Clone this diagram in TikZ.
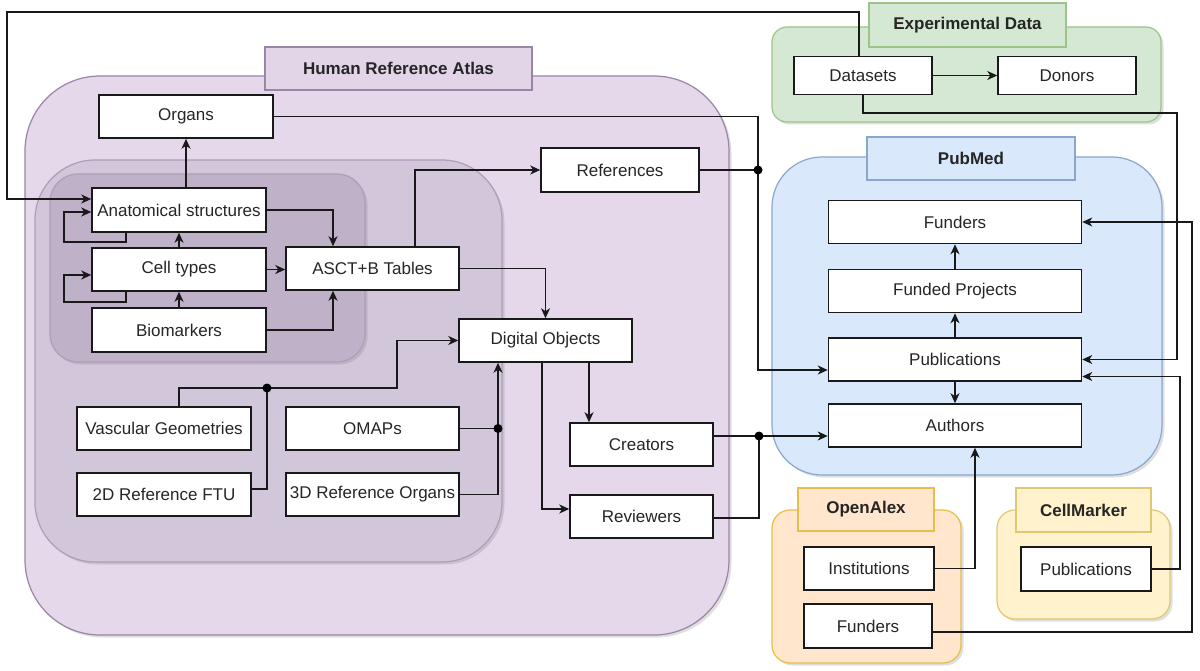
\documentclass[tikz,border=0pt]{standalone}
\usepackage{fontspec}
\setmainfont{Liberation Sans}
\usetikzlibrary{arrows.meta,calc,shadows}
\definecolor{hraFill}{HTML}{E4D8EA}
\definecolor{hraLine}{HTML}{9A85A6}
\definecolor{midFill}{HTML}{D2C6DA}
\definecolor{inFill}{HTML}{BFB1C7}
\definecolor{tabHra}{HTML}{E1D5E7}
\definecolor{gFill}{HTML}{D5E8D4}
\definecolor{gLine}{HTML}{9CC48A}
\definecolor{bFill}{HTML}{DAE8FC}
\definecolor{bLine}{HTML}{8AA6CF}
\definecolor{oFill}{HTML}{FFE6CC}
\definecolor{oLine}{HTML}{E8BE4A}
\definecolor{yFill}{HTML}{FFF2CC}
\definecolor{yLine}{HTML}{E0C870}
\begin{document}
\begin{tikzpicture}[x=1pt,y=-1pt,
  box/.style={draw=black!90, fill=white, line width=1.5pt, inner sep=0pt,
    font=\fontsize{17}{20}\selectfont, text=black!85},
  tab/.style={line width=1.2pt, inner sep=0pt, font=\bfseries\fontsize{17}{20}\selectfont, text=black!85},
  cont/.style={line width=1.2pt, drop shadow={shadow xshift=2.5pt,shadow yshift=-2.5pt,opacity=0.25}},
  conn/.style={line width=1.6pt, draw=black!90},
  arr/.style={conn, -{Stealth[length=10pt,width=9pt,inset=3pt]}},
  dot/.style={circle, fill=black, inner sep=0pt, minimum size=9pt}
]
\useasboundingbox (0,0) rectangle (1200,671);
\fill[white] (0,0) rectangle (1200,671);

% ---------- containers ----------
\draw[cont, fill=hraFill, draw=hraLine, rounded corners=75pt] (25,76) rectangle (729,635);
\node[tab, fill=tabHra, draw=hraLine, minimum width=267pt, minimum height=43pt] (hratab) at (398.5,68.5) {Human Reference Atlas};
\draw[cont, fill=midFill, draw=hraLine!80, rounded corners=60pt] (35,160) rectangle (502,562);
\draw[cont, fill=inFill, draw=hraLine!80, rounded corners=28pt] (50,174) rectangle (365,362);

\draw[cont, fill=gFill, draw=gLine, rounded corners=15pt] (772,27) rectangle (1161,122);
\node[tab, fill=gFill, draw=gLine, minimum width=197pt, minimum height=44pt] (gtab) at (967.5,25) {Experimental Data};

\draw[cont, fill=bFill, draw=bLine, rounded corners=50pt] (772,157) rectangle (1162,475);
\node[tab, fill=bFill, draw=bLine, minimum width=208pt, minimum height=43pt] (btab) at (971,158.5) {PubMed};

\draw[cont, fill=oFill, draw=oLine, rounded corners=18pt] (772,510) rectangle (961,663);
\node[tab, fill=oFill, draw=oLine, minimum width=136pt, minimum height=43pt] (otab) at (866,509.5) {OpenAlex};

\draw[cont, fill=yFill, draw=yLine, rounded corners=18pt] (997,510) rectangle (1170,619);
\node[tab, fill=yFill, draw=yLine, minimum width=135pt, minimum height=44pt] (ytab) at (1083.5,510) {CellMarker};

% ---------- boxes ----------
\node[box, minimum width=174pt, minimum height=43pt] (organs) at (186,116.5) {Organs};
\node[box, minimum width=174pt, minimum height=44pt] (as) at (179,210) {Anatomical structures};
\node[box, minimum width=174pt, minimum height=43pt] (ct) at (179,269.5) {Cell types};
\node[box, minimum width=174pt, minimum height=44pt] (bm) at (179,330) {Biomarkers};
\node[box, minimum width=173pt, minimum height=43pt] (asct) at (372.5,268.5) {ASCT+B Tables};
\node[box, minimum width=158pt, minimum height=44pt] (refs) at (620,170) {References};
\node[box, minimum width=173pt, minimum height=43pt] (dobj) at (545.5,340.5) {Digital Objects};
\node[box, minimum width=174pt, minimum height=43pt] (vg) at (164,428.5) {Vascular Geometries};
\node[box, minimum width=174pt, minimum height=43pt] (ftu) at (164,494.5) {2D Reference FTU};
\node[box, minimum width=173pt, minimum height=43pt] (omaps) at (372.5,428.5) {OMAPs};
\node[box, minimum width=173pt, minimum height=43pt] (org3d) at (372.5,494.5) {3D Reference Organs};
\node[box, minimum width=143pt, minimum height=43pt] (creators) at (641.5,444.5) {Creators};
\node[box, minimum width=143pt, minimum height=43pt] (reviewers) at (641.5,516.5) {Reviewers};

\node[box, minimum width=138pt, minimum height=38pt] (datasets) at (863,75.5) {Datasets};
\node[box, minimum width=138pt, minimum height=38pt] (donors) at (1067,75.5) {Donors};

\node[box, minimum width=253pt, minimum height=43pt] (pfunders) at (955,222) {Funders};
\node[box, minimum width=253pt, minimum height=43pt] (fprojects) at (955,291) {Funded Projects};
\node[box, minimum width=253pt, minimum height=43pt] (pubs) at (955,359.5) {Publications};
\node[box, minimum width=253pt, minimum height=43pt] (authors) at (955,425.5) {Authors};

\node[box, minimum width=130pt, minimum height=43pt] (inst) at (869,568.5) {Institutions};
\node[box, minimum width=128pt, minimum height=44pt] (ofunders) at (868,626) {Funders};
\node[box, minimum width=130pt, minimum height=44pt] (cmpubs) at (1086,569) {Publications};

% ---------- junction coordinates ----------
\coordinate (jv) at (267,388);
\coordinate (jo) at (498,428.5);
\coordinate (jc) at (759,436);
\coordinate (jr) at (758,170);

% ---------- connectors ----------
\draw[arr] ($(datasets.north)+(-4,0)$) |- (7,12) |- ($(as.west)+(0,-11)$);
\draw[arr] ($(as.south west)+(35,0)$) -- ++(0,9) -| (64,212) -- ($(as.west)+(0,2)$);
\draw[arr] ($(ct.south west)+(35,0)$) -- ++(0,10) -| (64,275) -- ($(ct.west)+(0,5.5)$);
\draw[arr] (ct.north) -- (as.south);
\draw[arr] (bm.north) -- (ct.south);
\draw[arr] (as.north -| organs.south) -- (organs.south);
\draw[arr] (as.east) -| ($(asct.north)+(-39.5,0)$);
\draw[arr] (ct.east) -- (ct.east -| asct.west);
\draw[arr] (bm.east) -| ($(asct.south)+(-39.5,0)$);
\draw[arr] ($(asct.north)+(42.5,0)$) |- (refs.west);
\draw[arr] (asct.east) -| (dobj.north);

\draw[arr] ($(vg.north)+(15,0)$) |- (397,388) |- (dobj.west);
\draw[conn] ($(ftu.east)+(0,-5.5)$) -| (jv);
\draw[conn] (omaps.east) -- (jo);
\draw[arr] (org3d.east) -| ($(dobj.south)+(-47.5,0)$);

\coordinate (d1) at ($(dobj.south)+(43.5,0)$);
\draw[arr] (d1) -- (d1 |- creators.north);
\draw[arr] ($(dobj.south)+(-3.5,0)$) |- ($(reviewers.west)+(0,-7.5)$);

\draw[arr] ($(creators.east)+(0,-8.5)$) -- ($(authors.west)+(0,10.5)$);
\draw[conn] ($(reviewers.east)+(0,1.5)$) -| (jc);

\draw[arr] (organs.east) -- (758,116.5) |- ($(pubs.west)+(0,10.5)$);
\draw[conn] (refs.east) -- (jr);

\draw[arr] (datasets.south) |- (1177,113) |- (pubs.east);
\draw[arr] (datasets.east) -- (donors.west);

\draw[arr] (pubs.north) -- (fprojects.south);
\draw[arr] (fprojects.north) -- (pfunders.south);
\draw[arr] (pubs.south) -- (authors.north);

\draw[arr] ($(ofunders.east)+(0,6)$) -- (1192,632) |- (pfunders.east);
\draw[arr] (cmpubs.east) -- (1180,569) |- ($(pubs.east)+(0,17)$);
\draw[arr] (inst.east) -| ($(authors.south)+(20,0)$);

% ---------- junction dots ----------
\node[dot] (djv) at (jv) {};
\node[dot] (djo) at (jo) {};
\node[dot] (djc) at (jc) {};
\node[dot] (djr) at (jr) {};
\end{tikzpicture}
\end{document}
